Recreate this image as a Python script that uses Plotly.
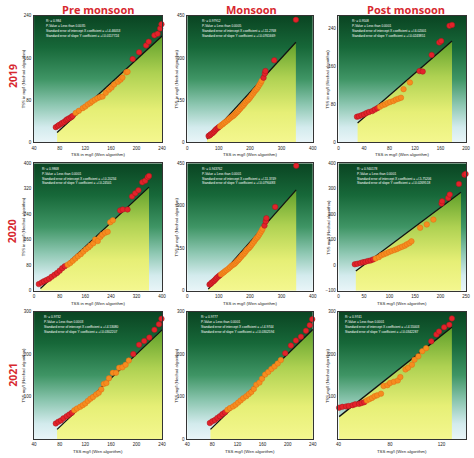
import plotly.graph_objects as go

W, H = 474, 458

seasons = ["Pre monsoon", "Monsoon", "Post monsoon"]
years = ["2019", "2020", "2021"]

# ---------------- 2019 ----------------
pre19_x = [74, 77, 79, 82, 84, 87, 90, 92, 95, 98, 100,
           105, 110, 116, 120, 124, 128, 131, 135, 139, 143, 147, 152, 157, 161, 165, 171, 175, 178, 184, 186,
           194, 204, 215, 219, 228, 233, 237, 239]
pre19_y = [29, 31, 33, 35, 37, 39, 42, 44, 46, 48, 50,
           56, 60, 65, 68, 72, 75, 78, 81, 84, 86, 87, 94, 100, 104, 110, 115, 119, 123, 133, 134,
           158, 171, 184, 191, 203, 206, 216, 224]
pre19_red = [11, 8]
pre19_fit_x = [76, 240]
pre19_fit_y = [19, 202]

mon19_x = [68, 72, 75, 80, 84, 88, 92, 97, 101,
           105, 109, 113, 117, 122, 128, 133, 138, 143, 147, 151, 155, 159, 163, 168, 172, 176, 180, 184, 188,
           193, 197, 201, 205, 210, 214, 218, 222, 226, 230, 234, 237,
           243, 247, 249, 277, 346]
mon19_y = [23, 26, 29, 33, 37, 42, 47, 51, 55,
           58, 62, 65, 69, 73, 78, 83, 88, 92, 95, 99, 104, 108, 113, 119, 125, 129, 134, 140, 146,
           150, 155, 161, 167, 174, 181, 186, 191, 198, 205, 212, 219,
           230, 245, 254, 292, 436]
mon19_red = [9, 5]
mon19_fit_x = [63, 346]
mon19_fit_y = [12, 356]

post19_x = [29, 32, 36, 40, 44, 48, 53, 57, 61,
            65, 69, 73, 77, 81, 86, 90, 94, 98, 102, 112,
            127, 132, 146, 158, 161, 174, 178]
post19_y = [54, 55, 57, 59, 62, 64, 66, 69, 72,
            75, 78, 80, 83, 85, 87, 90, 92, 94, 112, 126,
            150, 149, 184, 210, 213, 245, 247]
post19_red = [9, 7]
post19_fit_x = [30, 178]
post19_fit_y = [41, 213]

# ---------------- 2020 ----------------
pre20_x = [15, 24, 31, 39, 47, 55, 64, 72, 80, 88, 96,
           105, 113, 121, 129, 137, 146, 154, 162, 170, 176, 185, 191, 199, 207, 213, 222, 230, 238, 246,
           269, 277, 292, 306, 316, 326, 338, 347, 355, 359]
pre20_y = [21, 26, 30, 34, 38, 44, 50, 56, 63, 71, 77,
           82, 87, 94, 101, 108, 115, 123, 130, 136, 142, 149, 161, 156, 169, 176, 182, 185, 215, 221,
           252, 255, 255, 296, 306, 315, 340, 345, 356, 360]
pre20_red = [11, 10]
pre20_fit_x = [20, 359]
pre20_fit_y = [7, 325]

mon20_x = [71, 75, 78, 83, 87, 91, 95, 100, 104,
           108, 112, 116, 120, 125, 131, 136, 141, 146, 150, 154, 158, 162, 166, 171, 175, 179, 183, 187, 191,
           196, 200, 204, 208, 213, 217, 221, 225, 229, 233, 237, 240,
           246, 250, 252, 280, 347]
mon20_y = [22, 25, 29, 33, 37, 42, 47, 51, 55,
           58, 62, 65, 69, 73, 78, 83, 88, 92, 95, 99, 104, 108, 113, 119, 125, 129, 134, 140, 146,
           150, 155, 161, 167, 174, 181, 186, 191, 198, 205, 212, 219,
           230, 245, 256, 296, 441]
mon20_red = [9, 5]
mon20_fit_x = [67, 347]
mon20_fit_y = [6, 356]

post20_x = [32, 37, 43, 48, 53, 58, 63, 68,
            73, 79, 84, 89, 94, 99, 104, 110, 115, 120, 125, 130, 134, 139, 143, 160, 173, 186,
            202, 203, 215, 218, 236, 247, 249]
post20_y = [4, 6, 9, 12, 14, 17, 19, 23,
            27, 32, 39, 43, 47, 52, 56, 60, 64, 69, 73, 77, 82, 87, 94, 147, 160, 179,
            242, 251, 264, 277, 319, 355, 358]
post20_red = [8, 7]
post20_fit_x = [34, 240]
post20_fit_y = [-22, 286]

# ---------------- 2021 ----------------
pre21_x = [74, 78, 82, 86, 91, 95, 99,
           103, 107, 112, 116, 120, 124, 128, 132, 137, 141, 145, 149, 153, 157, 163, 168, 173, 178, 183, 188,
           195, 204, 212, 220, 228, 235, 239]
pre21_y = [37, 41, 44, 49, 54, 58, 62,
           68, 72, 76, 80, 84, 90, 95, 99, 105, 109, 117, 130, 132, 143, 156, 156, 168, 169, 175, 185,
           200, 222, 231, 239, 257, 270, 283]
pre21_red = [7, 7]
pre21_fit_x = [76, 240]
pre21_fit_y = [23, 257]

mon21_x = [76, 80, 84, 88, 92, 96, 100,
           104, 108, 113, 117, 121, 125, 129, 134, 138, 142, 146, 150, 155, 159, 164, 169, 174, 179, 184, 189,
           196, 205, 213, 221, 229, 235, 239]
mon21_y = [38, 42, 45, 50, 54, 59, 63,
           69, 73, 77, 81, 86, 91, 96, 101, 106, 111, 118, 128, 133, 142, 152, 158, 165, 171, 178, 186,
           202, 220, 232, 241, 255, 268, 282]
mon21_red = [7, 7]
mon21_fit_x = [77, 240]
mon21_fit_y = [23, 258]

post21_x = [40.5, 43, 46, 48, 51, 53, 56, 58, 60,
            62, 64, 66, 68, 70, 73, 75, 78, 80, 83, 86, 88, 92, 94, 97, 99, 102, 105, 108,
            112, 116, 118, 122, 126, 128]
post21_y = [74, 76, 77, 78, 80, 82, 83, 85, 87,
            91, 94, 97, 101, 103, 107, 125, 127, 132, 135, 138, 146, 164, 168, 175, 187, 195, 207, 214,
            230, 246, 253, 263, 269, 284]
post21_red = [9, 6]
post21_fit_x = [40.5, 128]
post21_fit_y = [53, 263]

# ---------------- axes ----------------
x_ranges = [[40, 240], [0, 400], [0, 200],
            [0, 400], [0, 400], [0, 250],
            [40, 240], [40, 240], [40, 139]]
x_ticks = [[40, 80, 120, 160, 200, 240], [0, 100, 200, 300, 400], [0, 40, 80, 120, 160, 200],
           [0, 80, 160, 240, 320, 400], [0, 100, 200, 300, 400], [0, 50, 100, 150, 200, 250],
           [40, 80, 120, 160, 200, 240], [40, 80, 120, 160, 200, 240], [40, 80, 120, 140]]
y_ranges = [[0, 240], [0, 450], [0, 266],
            [0, 400], [0, 450], [-100, 400],
            [0, 300], [0, 300], [0, 300]]
y_ticks = [[0, 80, 160, 240], [0, 150, 300, 450], [0, 80, 160, 240],
           [0, 80, 160, 240, 320, 400], [0, 150, 300, 450], [-100, 0, 100, 200, 300, 400],
           [100, 200, 300], [0, 100, 200, 300], [100, 200, 300]]

x_titles = ["TSS in mg/l (Wen algorithm)", "TSS in mg/l (Wen algorithm)", "TSS in mg/l (Wen algorithm)",
            "TSS in mg/l (Wen algorithm)", "TSS in mg/l (Wen algorithm)", "TSS mg/l (Wen algorithm)",
            "TSS mg/l (Wen algorithm)", "TSS mg/l (Wen algorithm)", "TSS mg/l (Wen algorithm)"]
y_titles = ["TSS in mg/l (Nechad algorithm)", "TSS in mg/l (Nechad algorithm)", "TSS in mg/l (Nechad algorithm)",
            "TSS in mg/l (Nechad algorithm)", "TSS in mg/l (Nechad algorithm)", "TSS mg/l (Nechad algorithm)",
            "TSS mg/l (Nechad algorithm)", "TSS mg/l (Nechad algorithm)", "TSS mg/l (Nechad algorithm)"]

stats = [
    ["R² = 0.984", "P-Value = Less than 0.0035",
     "Standard error of intercept X coefficient = +/-4.46053",
     "Standard error of slope Y coefficient = +/-0.0117724"],
    ["R² = 0.97912", "P-Value = Less than 0.0005",
     "Standard error of intercept X coefficient = +/-11.2768",
     "Standard error of slope Y coefficient = +/-0.0761669"],
    ["R² = 0.9508", "P-Value = Less than 0.0001",
     "Standard error of intercept X coefficient = +/-6.02001",
     "Standard error of slope Y coefficient = +/-0.0243851"],
    ["R² = 0.9868", "P-Value = Less than 0.0001",
     "Standard error of intercept X coefficient = +/-0.20234",
     "Standard error of slope Y coefficient = +/-0.24501"],
    ["R² = 0.943762", "P-Value = Less than 0.0001",
     "Standard error of intercept X coefficient = +/-11.3749",
     "Standard error of slope Y coefficient = +/-0.0790483"],
    ["R² = 0.940178", "P-Value = Less than 0.0001",
     "Standard error of intercept X coefficient = +/-5.75206",
     "Standard error of slope Y coefficient = +/-0.0269518"],
    ["R² = 0.9732", "P-Value = Less than 0.0003",
     "Standard error of intercept X coefficient = +/-4.53080",
     "Standard error of slope Y coefficient = +/-0.0302207"],
    ["R² = 0.9777", "P-Value = Less than 0.0001",
     "Standard error of intercept X coefficient = +/-4.9744",
     "Standard error of slope Y coefficient = +/-0.0302594"],
    ["R² = 0.9741", "P-Value = Less than 0.0001",
     "Standard error of intercept X coefficient = +/-4.55003",
     "Standard error of slope Y coefficient = +/-0.0342287"],
]

panels = [
    (pre19_x, pre19_y, pre19_red, pre19_fit_x, pre19_fit_y),
    (mon19_x, mon19_y, mon19_red, mon19_fit_x, mon19_fit_y),
    (post19_x, post19_y, post19_red, post19_fit_x, post19_fit_y),
    (pre20_x, pre20_y, pre20_red, pre20_fit_x, pre20_fit_y),
    (mon20_x, mon20_y, mon20_red, mon20_fit_x, mon20_fit_y),
    (post20_x, post20_y, post20_red, post20_fit_x, post20_fit_y),
    (pre21_x, pre21_y, pre21_red, pre21_fit_x, pre21_fit_y),
    (mon21_x, mon21_y, mon21_red, mon21_fit_x, mon21_fit_y),
    (post21_x, post21_y, post21_red, post21_fit_x, post21_fit_y),
]

# ---------------- layout geometry (pixels) ----------------
col_px = [(31.5, 161.5), (187, 314.5), (340.5, 470)]
row_px = [(14, 142), (163, 292), (313, 442)]
text_dx = [0.08, 0.10, 0.09, 0.05, 0.10, 0.13, 0.065, 0.09, 0.035]

BG_SCALE = [[0, "#e9f5f8"], [0.12, "#d3ebed"], [0.3, "#8cc6b0"], [0.5, "#3f9565"],
            [0.75, "#176839"], [1, "#0a4422"]]
FILL_SCALE = [[0, "#f4f78f"], [0.3, "#e6ef76"], [0.65, "#aed152"], [1, "#5f9f2a"]]
RED = "#e3232b"
ORANGE = "#f68c1f"
FONT = "Liberation Sans"

fig = go.Figure()
annotations = []

for i, (px, py, red, fx, fy) in enumerate(panels):
    r, c = divmod(i, 3)
    n = i + 1
    xa = "x" if n == 1 else f"x{n}"
    ya = "y" if n == 1 else f"y{n}"
    xr, yr = x_ranges[i], y_ranges[i]

    # background gradient
    fig.add_trace(go.Scatter(
        x=[xr[0], xr[1], xr[1], xr[0], xr[0]], y=[yr[0], yr[0], yr[1], yr[1], yr[0]],
        fill="toself", mode="lines", line=dict(width=0),
        fillgradient=dict(type="vertical", colorscale=BG_SCALE),
        hoverinfo="skip", showlegend=False, xaxis=xa, yaxis=ya))
    # area under fit line
    fig.add_trace(go.Scatter(
        x=[fx[0], fx[0], fx[1], fx[1], fx[0]], y=[yr[0], fy[0], fy[1], yr[0], yr[0]],
        fill="toself", mode="lines", line=dict(width=0),
        fillgradient=dict(type="vertical", colorscale=FILL_SCALE),
        hoverinfo="skip", showlegend=False, xaxis=xa, yaxis=ya))
    # fit line
    fig.add_trace(go.Scatter(
        x=fx, y=fy, mode="lines", line=dict(color="#111111", width=1.3),
        hoverinfo="skip", showlegend=False, xaxis=xa, yaxis=ya))
    # points
    nlo, nhi = red
    k = len(px)
    cols = [RED if (j < nlo or j >= k - nhi) else ORANGE for j in range(k)]
    edges = ["#a8141b" if cc == RED else "#e06d12" for cc in cols]
    fig.add_trace(go.Scatter(
        x=px, y=py, mode="markers",
        marker=dict(size=5.5, color=cols, line=dict(color=edges, width=0.5)),
        showlegend=False, xaxis=xa, yaxis=ya, cliponaxis=False))

    l, rr = col_px[c]
    t, b = row_px[r]
    dom_x = [l / W, rr / W]
    dom_y = [1 - b / H, 1 - t / H]
    axis_common = dict(showgrid=False, zeroline=False, showline=True, linecolor="#333333",
                       linewidth=0.8, mirror=True, ticks="",
                       tickfont=dict(size=4.5, color="#222222", family=FONT),
                       ticklabelstandoff=1)
    xkey = "xaxis" if n == 1 else f"xaxis{n}"
    ykey = "yaxis" if n == 1 else f"yaxis{n}"
    fig.layout[xkey] = dict(domain=dom_x, range=xr, tickvals=x_ticks[i], anchor=ya, **axis_common)
    fig.layout[ykey] = dict(domain=dom_y, range=yr, tickvals=y_ticks[i], anchor=xa, **axis_common)

    ph = b - t
    pw = rr - l
    # stats text
    for li, line in enumerate(stats[i]):
        annotations.append(dict(
            xref=f"{xa} domain", yref=f"{ya} domain", x=text_dx[i], y=1 - (5.5 + 5 * li) / ph,
            xanchor="left", yanchor="middle", showarrow=False, text=line,
            font=dict(size=3.2, color="white", family=FONT)))
    # axis titles
    annotations.append(dict(
        xref=f"{xa} domain", yref=f"{ya} domain", x=0.5, y=-12.5 / ph,
        xanchor="center", yanchor="middle", showarrow=False, text=x_titles[i],
        font=dict(size=4.3, color="#222222", family=FONT)))
    annotations.append(dict(
        xref=f"{xa} domain", yref=f"{ya} domain", x=-11 / pw, y=0.5, textangle=-90,
        xanchor="center", yanchor="middle", showarrow=False, text=y_titles[i],
        font=dict(size=4.2, color="#222222", family=FONT)))

# column titles
col_centers = [96, 252, 409]
for s, cx in zip(seasons, col_centers):
    annotations.append(dict(xref="paper", yref="paper", x=cx / W, y=1 - 7.5 / H,
                            xanchor="center", yanchor="middle", showarrow=False,
                            text=f"<b>{s}</b>", font=dict(size=11, color="#d7282f", family="Open Sans")))
# row labels
row_centers = [75, 232, 377]
for yv, cy in zip(years, row_centers):
    annotations.append(dict(xref="paper", yref="paper", x=10 / W, y=1 - cy / H, textangle=-90,
                            xanchor="center", yanchor="middle", showarrow=False,
                            text=f"<b>{yv}</b>", font=dict(size=10.5, color="#d7282f", family="Open Sans")))

fig.update_layout(
    width=W, height=H, autosize=False,
    margin=dict(l=0, r=0, t=0, b=0, pad=0),
    paper_bgcolor="white", plot_bgcolor="white",
    annotations=annotations, showlegend=False,
)

fig.write_html("out.html")
